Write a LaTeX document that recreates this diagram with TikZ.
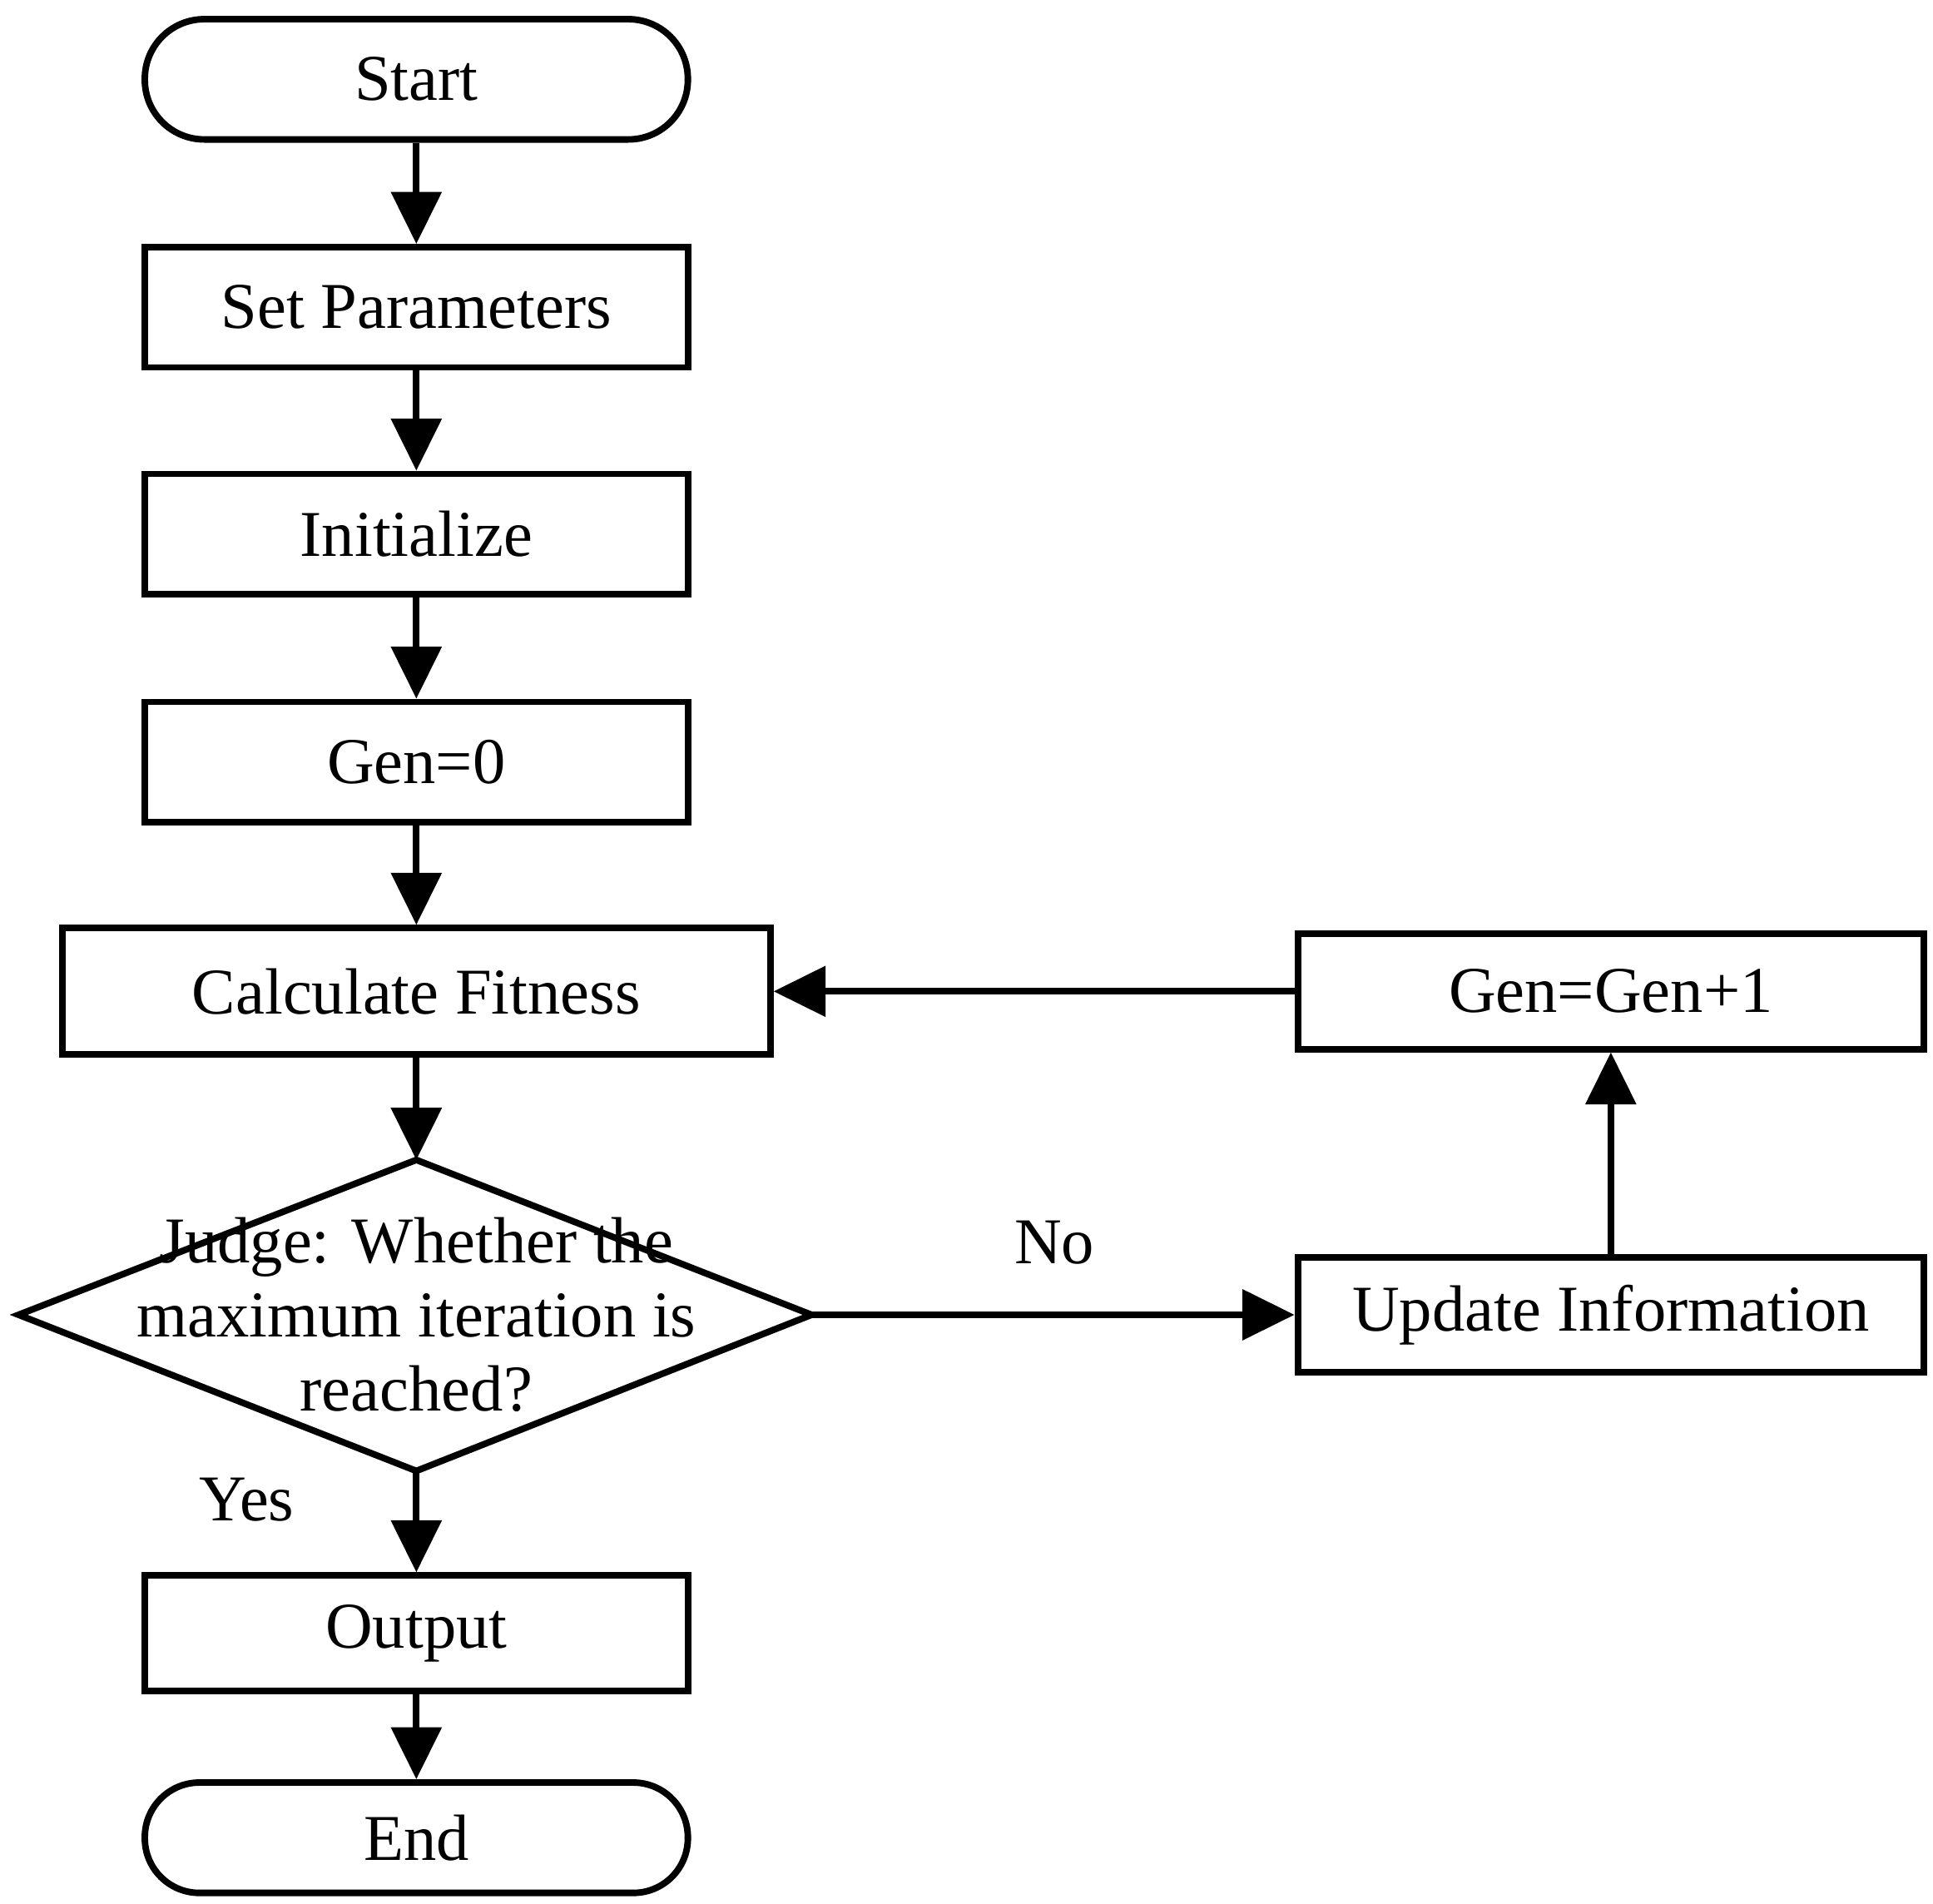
\documentclass[tikz,border=0pt]{standalone}
\usepackage{fontspec}
\setmainfont{Liberation Serif}
\usetikzlibrary{arrows.meta}
\begin{document}
\begin{tikzpicture}[x=0.01cm,y=-0.01cm,
  font=\fontsize{15}{18}\selectfont,
  box/.style={draw,line width=1.5pt,minimum width=4.38cm,minimum height=0.97cm},
  term/.style={box,rounded corners=0.48cm},
  arr/.style={line width=1.5pt,-{Triangle[length=0.42cm,width=0.4cm]}}]

  \useasboundingbox (0,0) rectangle (1560,1536);

  \node[term] (start) at (336,64) {Start};
  \node[box] (param) at (336,248) {Set Parameters};
  \node[box] (init) at (336,431) {Initialize};
  \node[box] (gen0) at (336,615) {Gen=0};
  \node[box,minimum width=5.71cm,minimum height=1.02cm] (fit) at (336,800) {Calculate Fitness};
  % decision
  \coordinate (jt) at (336,936);
  \coordinate (jr) at (655,1061);
  \coordinate (jb) at (336,1187);
  \coordinate (jl) at (15,1061);
  \draw[line width=1.5pt] (jt) -- (jr) -- (jb) -- (jl) -- cycle;
  \node[align=center] (judge) at (336,1061) {Judge: Whether the\\[-1pt] maximum iteration is\\[-1pt] reached?};
  \node[box,minimum height=0.93cm] (out) at (336,1318) {Output};
  \node[term,minimum height=0.89cm,rounded corners=0.44cm] (end) at (336,1483) {End};
  \node[box,minimum width=5.05cm,minimum height=0.93cm] (inc) at (1300,800) {Gen=Gen+1};
  \node[box,minimum width=5.05cm,minimum height=0.93cm] (upd) at (1300,1061) {Update Information};
  \node (no) at (851,1003) {No};
  \node (yes) at (199,1210) {Yes};

  \draw[arr] (start) -- (param);
  \draw[arr] (param) -- (init);
  \draw[arr] (init) -- (gen0);
  \draw[arr] (gen0) -- (fit);
  \draw[arr] (fit) -- (jt);
  \draw[arr] (jb) -- (out);
  \draw[arr] (out) -- (end);
  \draw[arr] (jr) -- (upd);
  \draw[arr] (upd) -- (inc);
  \draw[arr] (inc) -- (fit);

\end{tikzpicture}
\end{document}
